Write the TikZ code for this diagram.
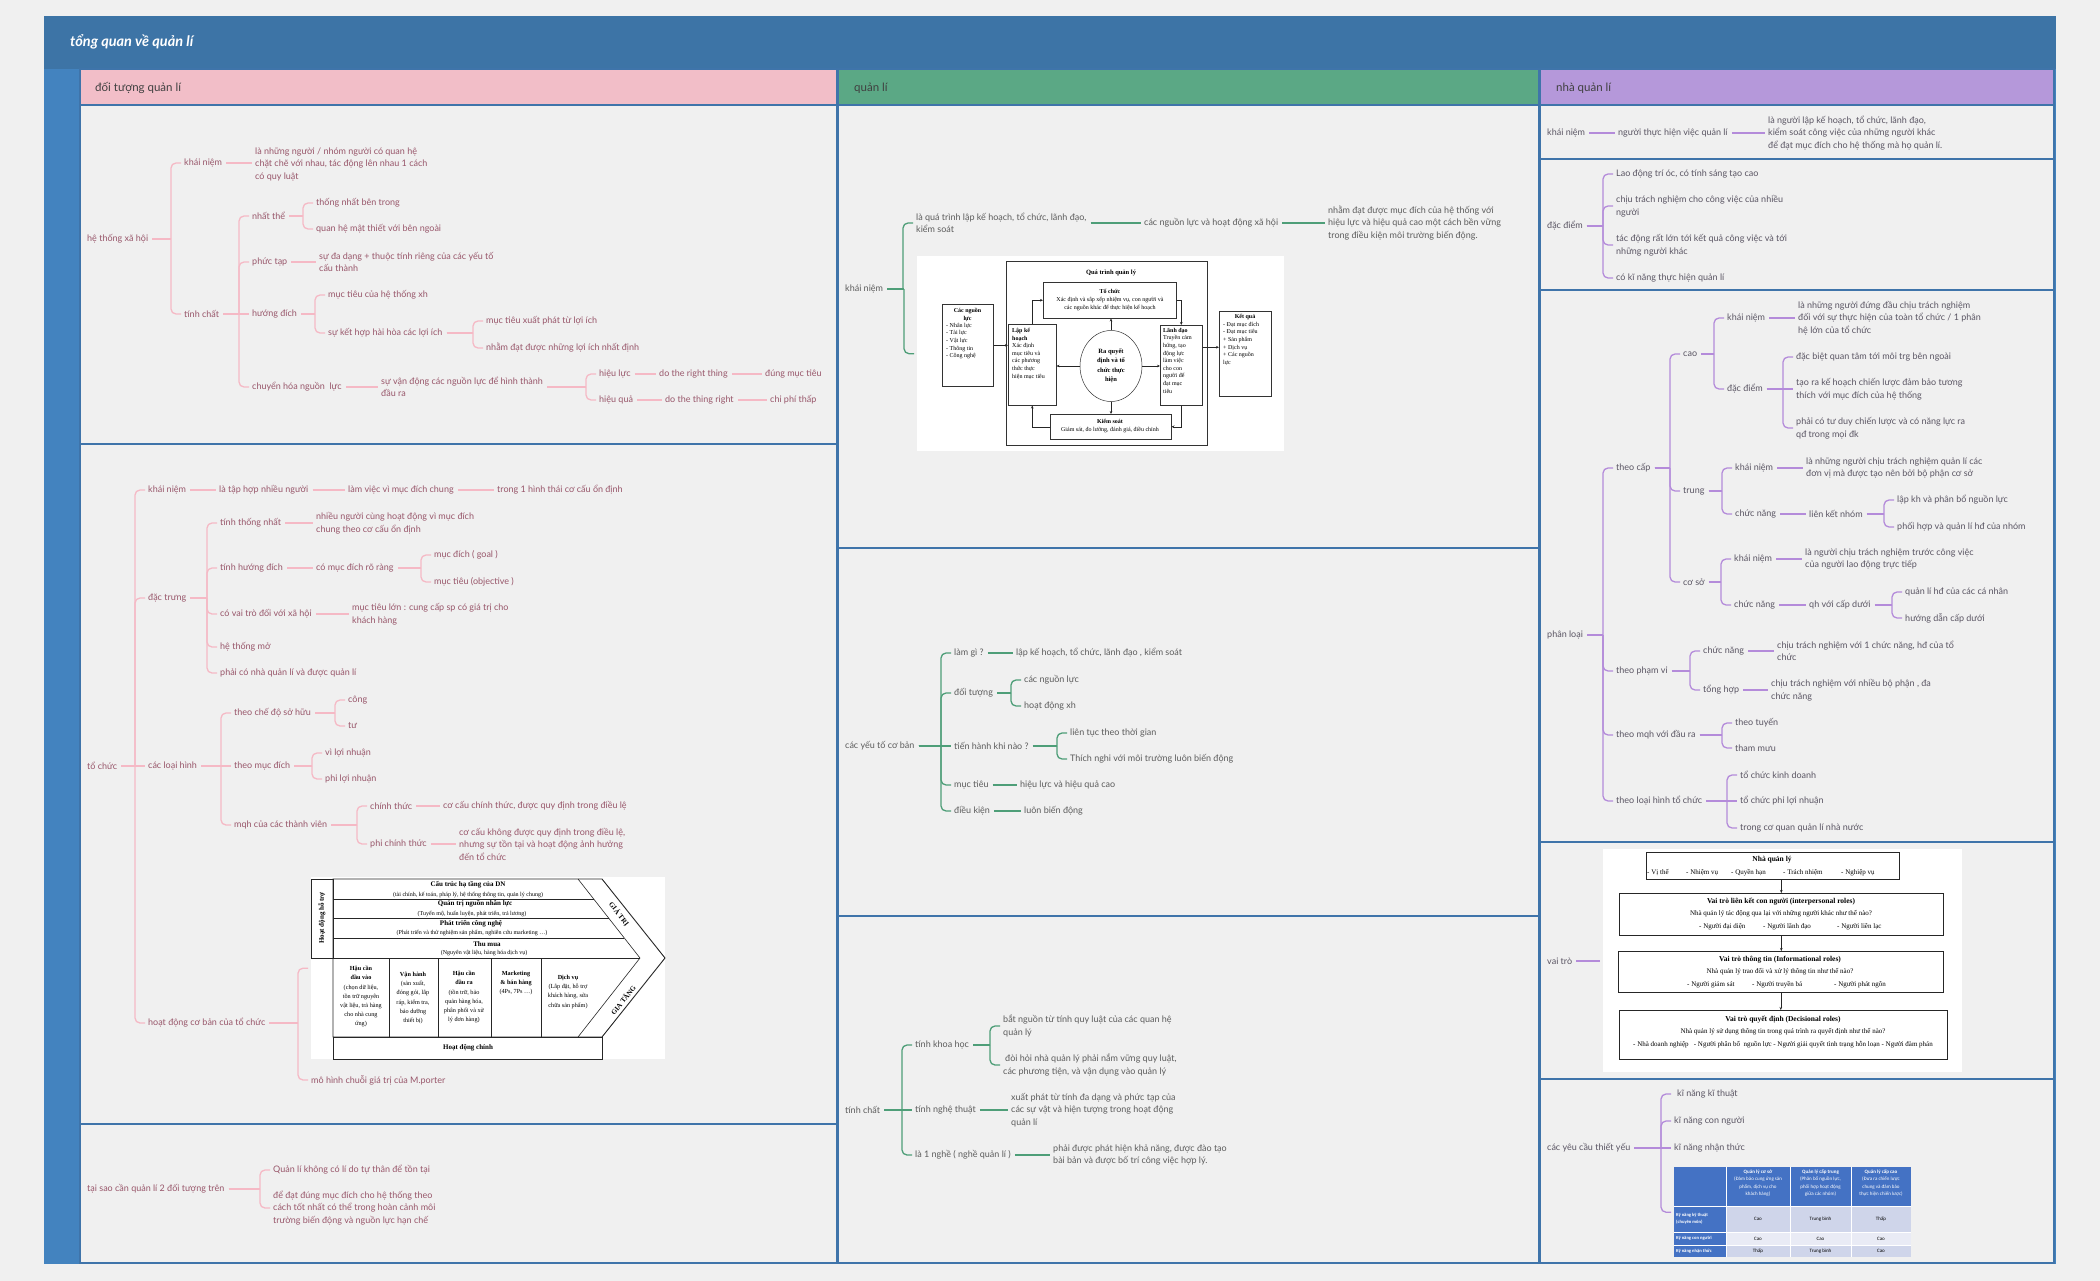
\documentclass[tikz,border=0pt]{standalone}
\usepackage{fontspec}
\setmainfont{Lato}
\newfontfamily\serf{Liberation Serif}
\newfontfamily\tabf{Carlito}
\usetikzlibrary{calc,arrows.meta,shapes.geometric}
\definecolor{bg}{HTML}{F0F0F0}
\definecolor{titleblue}{HTML}{3D74A6}
\definecolor{stripblue}{HTML}{4383BF}
\definecolor{frameblue}{HTML}{3F74AA}
\definecolor{hpink}{HTML}{F2BEC8}
\definecolor{hgreen}{HTML}{5BA885}
\definecolor{hpurple}{HTML}{B598DA}
\definecolor{lline}{HTML}{F5B9C5}
\definecolor{ltext}{HTML}{98566A}
\definecolor{mline}{HTML}{4E9E78}
\definecolor{mtext}{HTML}{5C5C5C}
\definecolor{rline}{HTML}{B48BDA}
\definecolor{rtext}{HTML}{5A5563}
\definecolor{tblue}{HTML}{4472C4}
\definecolor{tdark}{HTML}{CFD5EA}
\definecolor{tlight}{HTML}{E9EBF5}
\newcommand\mlk[2]{%
  \draw[cn] ($(#1.east)+(4,0)$) -- ($(#2.west |- #1.east)+(-13,0)$);%
  \draw[cn,rounded corners=5pt] ($(#2.west |- #1.east)+(-13,0)$) |- ($(#2.west)+(-3,0)$);}
\newcommand\mls[2]{\draw[cn] ($(#1.east)+(4,0)$) -- ($(#2.west |- #1.east)+(-3,0)$);}
\begin{document}
\begin{tikzpicture}[x=1pt,y=-1pt,
  nd/.style={anchor=west,inner sep=0pt,align=left,font=\fontsize{9}{12.5}\selectfont},
  panel/.style={draw=frameblue,line width=1.5pt,fill=bg},
  hdr/.style={draw=frameblue,line width=1.5pt},
  htext/.style={anchor=west,inner sep=0pt,font=\fontsize{11.5}{13}\selectfont,text=black!75},
  imgbox/.style={anchor=north west,fill=white,draw=none,inner sep=0pt},
  vl/.style={draw=black!85,line width=0.6pt},
  vt/.style={inner sep=0pt,font=\serf\bfseries\fontsize{7}{8}\selectfont},
  vs/.style={inner sep=0pt,font=\serf\fontsize{6}{7}\selectfont},
  vcol/.style={anchor=north,align=center,inner sep=0pt,font=\serf\fontsize{6.2}{9.2}\selectfont},
  pb/.style={draw=black!80,line width=0.5pt,anchor=north west,inner sep=0pt},
  ptx/.style={inner sep=0pt,align=left,font=\serf\fontsize{6}{7.6}\selectfont},
  pa/.style={draw=black!85,line width=0.5pt,-{Stealth[length=3pt,width=2.6pt]}},
  rbx/.style={draw=black!85,line width=0.6pt,anchor=north west,inner sep=0pt},
  rbt/.style={inner sep=0pt,font=\serf\bfseries\fontsize{7.5}{9}\selectfont},
  rbs/.style={inner sep=0pt,font=\serf\fontsize{7}{8}\selectfont},
  ttx/.style={inner sep=0pt,align=center,font=\tabf\fontsize{5}{7.4}\selectfont}
]
\useasboundingbox (0,0) rectangle (2100,1281);
\fill[bg] (0,0) rectangle (2100,1281);
\fill[stripblue] (44,16) rectangle (2056,1264);
\fill[titleblue] (44,16) rectangle (2056,69);
\node[anchor=west,inner sep=0pt,text=white,font=\bfseries\itshape\fontsize{14.5}{16}\selectfont] (title) at (70,42) {tổng quan về quản lí};

% headers
\draw[hdr,fill=hpink] (80,69) rectangle (837,105);
\draw[hdr,fill=hgreen] (838,69) rectangle (1539,105);
\draw[hdr,fill=hpurple] (1540,69) rectangle (2054,105);
\node[htext] (h1) at (95,88) {đối tượng quản lí};
\node[htext] (h2) at (854,88) {quản lí};
\node[htext] (h3) at (1556,88) {nhà quản lí};

% panels
\draw[panel] (80,105) rectangle (837,444);
\draw[panel] (80,444) rectangle (837,1124);
\draw[panel] (80,1124) rectangle (837,1263);
\draw[panel] (838,105) rectangle (1539,548);
\draw[panel] (838,548) rectangle (1539,916);
\draw[panel] (838,916) rectangle (1539,1263);
\draw[panel] (1540,105) rectangle (2054,159);
\draw[panel] (1540,159) rectangle (2054,290);
\draw[panel] (1540,290) rectangle (2054,842);
\draw[panel] (1540,842) rectangle (2054,1079);
\draw[panel] (1540,1079) rectangle (2054,1263);

%================ LEFT COLUMN =================
\begin{scope}[tx/.style={nd,text=ltext},cn/.style={draw=lline,line width=1.3pt}]
\node[tx] (a0) at (87,239) {hệ thống xã hội};
\node[tx] (a1) at (184,163) {khái niệm};
\node[tx] (a1a) at (255,164) {là những người / nhóm người có quan hệ\\chặt chẽ với nhau, tác động lên nhau 1 cách\\có quy luật};
\node[tx] (a2) at (184,314) {tính chất};
\node[tx] (a21) at (252,216) {nhất thể};
\node[tx] (a211) at (316,203) {thống nhất bên trong};
\node[tx] (a212) at (316,229) {quan hệ mật thiết với bên ngoài};
\node[tx] (a22) at (252,262) {phức tạp};
\node[tx] (a221) at (319,262) {sự đa dạng + thuộc tính riêng của các yếu tố\\cấu thành};
\node[tx] (a23) at (252,314) {hướng đích};
\node[tx] (a231) at (328,295) {mục tiêu của hệ thống xh};
\node[tx] (a232) at (328,333) {sự kết hợp hài hòa các lợi ích};
\node[tx] (a2321) at (486,321) {mục tiêu xuất phát từ lợi ích};
\node[tx] (a2322) at (486,348) {nhằm đạt được những lợi ích nhất định};
\node[tx] (a24) at (252,387) {chuyển hóa nguồn\ \ lực};
\node[tx] (a241) at (381,387) {sự vận động các nguồn lực để hình thành\\đầu ra};
\node[tx] (a2411) at (599,374) {hiệu lực};
\node[tx] (a2412) at (659,374) {do the right thing};
\node[tx] (a2413) at (765,374) {đúng mục tiêu};
\node[tx] (a2421) at (599,400) {hiệu quả};
\node[tx] (a2422) at (665,400) {do the thing right};
\node[tx] (a2423) at (770,400) {chi phí thấp};
\mlk{a0}{a1} \mlk{a0}{a2}
\mls{a1}{a1a}
\mlk{a2}{a21} \mlk{a2}{a22} \mls{a2}{a23} \mlk{a2}{a24}
\mlk{a21}{a211} \mlk{a21}{a212}
\mls{a22}{a221}
\mlk{a23}{a231} \mlk{a23}{a232}
\mlk{a232}{a2321} \mlk{a232}{a2322}
\mls{a24}{a241}
\mlk{a241}{a2411} \mlk{a241}{a2421}
\mls{a2411}{a2412} \mls{a2412}{a2413}
\mls{a2421}{a2422} \mls{a2422}{a2423}

\node[tx] (b0) at (87,766) {tổ chức};
\node[tx] (b1) at (148,490) {khái niệm};
\node[tx] (b11) at (219,490) {là tập hợp nhiều người};
\node[tx] (b12) at (348,490) {làm việc vì mục đích chung};
\node[tx] (b13) at (497,490) {trong 1 hình thái cơ cấu ổn định};
\node[tx] (b2) at (148,598) {đặc trưng};
\node[tx] (b21) at (220,523) {tính thống nhất};
\node[tx] (b211) at (316,523) {nhiều người cùng hoạt động vì mục đích\\chung theo cơ cấu ổn định};
\node[tx] (b22) at (220,568) {tính hướng đích};
\node[tx] (b221) at (316,568) {có mục đích rõ ràng};
\node[tx] (b2211) at (434,555) {mục đích ( goal )};
\node[tx] (b2212) at (434,582) {mục tiêu (objective )};
\node[tx] (b23) at (220,614) {có vai trò đối với xã hội};
\node[tx] (b231) at (352,614) {mục tiêu lớn : cung cấp sp có giá trị cho\\khách hàng};
\node[tx] (b24) at (220,647) {hệ thống mở};
\node[tx] (b25) at (220,673) {phải có nhà quản lí và được quản lí};
\node[tx] (b3) at (148,766) {các loại hình};
\node[tx] (b31) at (234,713) {theo chế độ sở hữu};
\node[tx] (b311) at (348,700) {công};
\node[tx] (b312) at (348,726) {tư};
\node[tx] (b32) at (234,766) {theo mục đích};
\node[tx] (b321) at (325,753) {vì lợi nhuận};
\node[tx] (b322) at (325,779) {phi lợi nhuận};
\node[tx] (b33) at (234,825) {mqh của các thành viên};
\node[tx] (b331) at (370,806) {chính thức};
\node[tx] (b3311) at (443,806) {cơ cấu chính thức, được quy định trong điều lệ};
\node[tx] (b332) at (370,844) {phi chính thức};
\node[tx] (b3321) at (459,844) {cơ cấu không được quy định trong điều lệ,\\nhưng sự tồn tại và hoạt động ảnh hưởng\\đến tổ chức};
\node[tx] (b4) at (148,1023) {hoạt động cơ bản của tổ chức};
\node[tx] (b42) at (311,1080) {mô hình chuỗi giá trị của M.porter};

% value chain picture
\node[imgbox,minimum width=354,minimum height=182] (vc) at (311,877) {};
\draw[vl] (311,879) rectangle (333,958);
\draw[vl,line width=0.9pt] (333,879) -- (602,879) -- (665,958) -- (602,1037) -- (333,1037) -- cycle;
\draw[vl] (578,879) -- (640,958) -- (578,1037);
\draw[vl] (333,899) -- (594,899) (333,918) -- (609,918) (333,938) -- (624,938) (311,958) -- (640,958);
\draw[vl] (389,958) -- (389,1037) (438,958) -- (438,1037) (491,958) -- (491,1037) (541,958) -- (541,1037);
\draw[vl] (333,1037) rectangle (602,1059);
\node[vt] at (468,885) {Cấu trúc hạ tầng của DN};
\node[vs] at (468,894.5) {(tài chính, kế toán, pháp lý, hệ thống thông tin, quản lý chung)};
\node[vt] at (475,904) {Quản trị nguồn nhân lực};
\node[vs] at (472,913.5) {(Tuyển mộ, huấn luyện, phát triển, trả lương)};
\node[vt] at (471,923.5) {Phát triển công nghệ};
\node[vs] at (472,933) {(Phát triển và thử nghiệm sản phẩm, nghiên cứu marketing …)};
\node[vt] at (487,944) {Thu mua};
\node[vs] at (484,953) {(Nguyên vật liệu, hàng hóa dịch vụ)};
\node[vcol] at (361,966) {\textbf{Hậu cần}\\\textbf{đầu vào}\\(chọn dữ liệu,\\tồn trữ nguyên\\vật liệu, trả hàng\\cho nhà cung\\ứng)};
\node[vcol] at (413,972) {\textbf{Vận hành}\\(sản xuất,\\đóng gói, lắp\\ráp, kiểm tra,\\bảo dưỡng\\thiết bị)};
\node[vcol] at (464,971) {\textbf{Hậu cần}\\\textbf{đầu ra}\\(tồn trữ, bảo\\quản hàng hóa,\\phân phối và xử\\lý đơn hàng)};
\node[vcol] at (516,971) {\textbf{Marketing}\\\textbf{\& bán hàng}\\(4Ps, 7Ps …)};
\node[vcol] at (568,975) {\textbf{Dịch vụ}\\(Lắp đặt, hỗ trợ\\khách hàng, sửa\\chữa sản phẩm)};
\node[vt] at (468,1048) {Hoạt động chính};
\node[vt,rotate=90] at (322,918) {Hoạt động hỗ trợ};
\node[vt,rotate=-51.5] at (619,914) {GIÁ TRỊ};
\node[vt,rotate=51.5] at (623,1000) {GIA TĂNG};

\mlk{b0}{b1} \mlk{b0}{b2} \mls{b0}{b3} \mlk{b0}{b4}
\mls{b1}{b11} \mls{b11}{b12} \mls{b12}{b13}
\mlk{b2}{b21} \mlk{b2}{b22} \mlk{b2}{b23} \mlk{b2}{b24} \mlk{b2}{b25}
\mls{b21}{b211}
\mls{b22}{b221}
\mlk{b221}{b2211} \mlk{b221}{b2212}
\mls{b23}{b231}
\mlk{b3}{b31} \mls{b3}{b32} \mlk{b3}{b33}
\mlk{b31}{b311} \mlk{b31}{b312}
\mlk{b32}{b321} \mlk{b32}{b322}
\mlk{b33}{b331} \mlk{b33}{b332}
\mls{b331}{b3311} \mls{b332}{b3321}
\mlk{b4}{vc} \mlk{b4}{b42}

\node[tx] (c0) at (87,1189) {tại sao cần quản lí 2 đối tượng trên};
\node[tx] (c1) at (273,1170) {Quản lí không có lí do tự thân để tồn tại};
\node[tx] (c2) at (273,1208) {để đạt đúng mục đích cho hệ thống theo\\cách tốt nhất có thể trong hoàn cảnh môi\\trường biến động và nguồn lực hạn chế};
\mlk{c0}{c1} \mlk{c0}{c2}
\end{scope}

%================ MIDDLE COLUMN =================
\begin{scope}[tx/.style={nd,text=mtext},cn/.style={draw=mline,line width=1.3pt}]
\node[tx] (m0) at (845,289) {khái niệm};
\node[tx] (m1) at (916,223) {là quá trình lập kế hoạch, tổ chức, lãnh đạo,\\kiểm soát};
\node[tx] (m2) at (1144,223) {các nguồn lực và hoạt động xã hội};
\node[tx] (m3) at (1328,223) {nhằm đạt được mục đích của hệ thống với\\hiệu lực và hiệu quả cao một cách bền vững\\trong điều kiện môi trường biến động.};

% management process picture
\node[imgbox,minimum width=367,minimum height=195] (mp) at (917,256) {};
\node[pb,minimum width=201,minimum height=184] (qt) at (1006,261) {};
\node[ptx,font=\serf\bfseries\fontsize{6.5}{8}\selectfont] at (1111,273) {Quá trình quản lý};
\node[pb,minimum width=133,minimum height=36] (tc) at (1043,282) {};
\node[ptx,align=center] at (1110,300) {\textbf{Tổ chức}\\Xác định và sắp xếp nhiệm vụ, con người và\\các nguồn khác để thực hiện kế hoạch};
\node[pb,minimum width=51,minimum height=82] (cnl) at (942,304) {};
\node[ptx,align=center,anchor=north] at (967.5,308) {\textbf{Các nguồn}\\\textbf{lực}};
\node[ptx,anchor=north west] at (946,323) {- Nhân lực\\- Tài lực\\- Vật lực\\- Thông tin\\- Công nghệ};
\node[pb,minimum width=48,minimum height=81] (lkh) at (1008,324) {};
\node[ptx,anchor=north west] at (1012,328) {\textbf{Lập kế}\\\textbf{hoạch}\\Xác định\\mục tiêu và\\các phương\\thức thực\\hiện mục tiêu};
\node[draw=black!80,line width=0.5pt,ellipse,minimum width=62,minimum height=71,inner sep=0pt,align=center,font=\serf\bfseries\fontsize{6.5}{9.5}\selectfont] (rqd) at (1111,366) {Ra quyết\\định và tổ\\chức thực\\hiện};
\node[pb,minimum width=42,minimum height=80] (ld) at (1160,325) {};
\node[ptx,anchor=north west] at (1163,328) {\textbf{Lãnh đạo}\\Truyền cảm\\hứng, tạo\\động lực\\làm việc\\cho con\\người để\\đạt mục\\tiêu};
\node[pb,minimum width=52,minimum height=85] (kq) at (1219,311) {};
\node[ptx,anchor=north] at (1245,314) {\textbf{Kết quả}};
\node[ptx,anchor=north west] at (1223,322) {- Đạt mục đích\\- Đạt mục tiêu\\+ Sản phẩm\\+ Dịch vụ\\+ Các nguồn\\lực};
\node[pb,minimum width=121,minimum height=25] (ks) at (1050,414) {};
\node[ptx,align=center] at (1110,426) {\textbf{Kiểm soát}\\Giám sát, đo lường, đánh giá, điều chỉnh};
\draw[pa] (cnl.east) -- (cnl.east -| lkh.west);
\draw[pa] (lkh.north) |- (tc.west);
\draw[pa] (tc.east) -| (ld.north);
\draw[pa] (ld.south) |- (ks.east);
\draw[pa] (ks.west) -| (lkh.south);
\draw[pa] (rqd.north) -- (rqd.north |- tc.south);
\draw[pa] (rqd.south) -- (rqd.south |- ks.north);
\draw[pa] (rqd.west) -- (rqd.west -| lkh.east);
\draw[pa] (rqd.east) -- (rqd.east -| ld.west);
\draw[pa] ([yshift=18pt]ld.east) -- ([yshift=18pt]ld.east -| kq.west);

\mlk{m0}{m1} \mlk{m0}{mp}
\mls{m1}{m2} \mls{m2}{m3}

\node[tx] (n0) at (845,746) {các yếu tố cơ bản};
\node[tx] (n1) at (954,653) {làm gì ?};
\node[tx] (n11) at (1016,653) {lập kế hoạch, tổ chức, lãnh đạo , kiểm soát};
\node[tx] (n2) at (954,693) {đối tượng};
\node[tx] (n21) at (1024,680) {các nguồn lực};
\node[tx] (n22) at (1024,706) {hoạt động xh};
\node[tx] (n3) at (954,746) {tiến hành khi nào ?};
\node[tx] (n31) at (1070,733) {liên tục theo thời gian};
\node[tx] (n32) at (1070,759) {Thích nghi với môi trường luôn biến động};
\node[tx] (n4) at (954,785) {mục tiêu};
\node[tx] (n41) at (1020,785) {hiệu lực và hiệu quả cao};
\node[tx] (n5) at (954,811) {điều kiện};
\node[tx] (n51) at (1024,811) {luôn biến động};
\mlk{n0}{n1} \mlk{n0}{n2} \mls{n0}{n3} \mlk{n0}{n4} \mlk{n0}{n5}
\mls{n1}{n11}
\mlk{n2}{n21} \mlk{n2}{n22}
\mlk{n3}{n31} \mlk{n3}{n32}
\mls{n4}{n41} \mls{n5}{n51}

\node[tx] (p0) at (845,1110) {tính chất};
\node[tx] (p1) at (915,1045) {tính khoa học};
\node[tx] (p11) at (1003,1026) {bắt nguồn từ tính quy luật của các quan hệ\\quản lý};
\node[tx] (p12) at (1003,1065) {\hspace{2pt}đòi hỏi nhà quản lý phải nắm vững quy luật,\\các phương tiện, và vận dụng vào quản lý};
\node[tx] (p2) at (915,1110) {tính nghệ thuật};
\node[tx] (p21) at (1011,1110) {xuất phát từ tính đa dạng và phức tạp của\\các sự vật và hiện tượng trong hoạt động\\quản lí};
\node[tx] (p3) at (915,1155) {là 1 nghề ( nghề quản lí )};
\node[tx] (p31) at (1053,1155) {phải được phát hiện khả năng, được đào tạo\\bài bản và được bố trí công việc hợp lý.};
\mlk{p0}{p1} \mls{p0}{p2} \mlk{p0}{p3}
\mlk{p1}{p11} \mlk{p1}{p12}
\mls{p2}{p21} \mls{p3}{p31}
\end{scope}

%================ RIGHT COLUMN =================
\begin{scope}[tx/.style={nd,text=rtext},cn/.style={draw=rline,line width=1.3pt}]
\node[tx] (r0) at (1547,133) {khái niệm};
\node[tx] (r1) at (1618,133) {người thực hiện việc quản lí};
\node[tx] (r2) at (1768,133) {là người lập kế hoạch, tổ chức, lãnh đạo,\\kiểm soát công việc của những người khác\\để đạt mục đích cho hệ thống mà họ quản lí.};
\mls{r0}{r1} \mls{r1}{r2}

\node[tx] (s0) at (1547,226) {đặc điểm};
\node[tx] (s1) at (1616,174) {Lao động trí óc, có tính sáng tạo cao};
\node[tx] (s2) at (1616,206) {chịu trách nghiệm cho công việc của nhiều\\người};
\node[tx] (s3) at (1616,245) {tác động rất lớn tới kết quả công việc và tới\\những người khác};
\node[tx] (s4) at (1616,278) {có kĩ năng thực hiện quản lí};
\mlk{s0}{s1} \mlk{s0}{s2} \mlk{s0}{s3} \mlk{s0}{s4}

\node[tx] (t0) at (1547,635) {phân loại};
\node[tx] (t1) at (1616,468) {theo cấp};
\node[tx] (t11) at (1683,354) {cao};
\node[tx] (t111) at (1727,318) {khái niệm};
\node[tx] (t1111) at (1798,318) {là những người đứng đầu chịu trách nghiệm\\đối với sự thực hiện của toàn tổ chức / 1 phân\\hệ lớn của tổ chức};
\node[tx] (t112) at (1727,389) {đặc điểm};
\node[tx] (t1121) at (1796,357) {đặc biệt quan tâm tới môi trg bên ngoài};
\node[tx] (t1122) at (1796,389) {tạo ra kế hoạch chiến lược đảm bảo tương\\thích với mục đích của hệ thống};
\node[tx] (t1123) at (1796,428) {phải có tư duy chiến lược và có năng lực ra\\qđ trong mọi đk};
\node[tx] (t12) at (1683,491) {trung};
\node[tx] (t121) at (1735,468) {khái niệm};
\node[tx] (t1211) at (1806,468) {là những người chịu trách nghiệm quản lí các\\đơn vị mà được tạo nên bởi bộ phận cơ sở};
\node[tx] (t122) at (1735,514) {chức năng};
\node[tx] (t1221) at (1809,514) {liên kết nhóm};
\node[tx] (t12211) at (1897,500) {lập kh và phân bổ nguồn lực};
\node[tx] (t12212) at (1897,527) {phối hợp và quản lí hđ của nhóm};
\node[tx] (t13) at (1683,582) {cơ sở};
\node[tx] (t131) at (1734,559) {khái niệm};
\node[tx] (t1311) at (1805,559) {là người chịu trách nghiệm trước công việc\\của người lao động trực tiếp};
\node[tx] (t132) at (1734,605) {chức năng};
\node[tx] (t1321) at (1809,605) {qh với cấp dưới};
\node[tx] (t13211) at (1905,592) {quản lí hđ của các cá nhân};
\node[tx] (t13212) at (1905,618) {hướng dẫn cấp dưới};
\node[tx] (t2) at (1616,671) {theo phạm vi};
\node[tx] (t21) at (1703,651) {chức năng};
\node[tx] (t211) at (1777,651) {chịu trách nghiệm với 1 chức năng, hđ của tổ\\chức};
\node[tx] (t22) at (1703,690) {tổng hợp};
\node[tx] (t221) at (1771,690) {chịu trách nghiệm với nhiều bộ phận , đa\\chức năng};
\node[tx] (t3) at (1616,735) {theo mqh với đầu ra};
\node[tx] (t31) at (1735,723) {theo tuyến};
\node[tx] (t32) at (1735,748) {tham mưu};
\node[tx] (t4) at (1616,801) {theo loại hình tổ chức};
\node[tx] (t41) at (1740,775) {tổ chức kinh doanh};
\node[tx] (t42) at (1740,801) {tổ chức phi lợi nhuận};
\node[tx] (t43) at (1740,828) {trong cơ quan quản lí nhà nước};
\mlk{t0}{t1} \mlk{t0}{t2} \mlk{t0}{t3} \mlk{t0}{t4}
\mlk{t1}{t11} \mlk{t1}{t12} \mlk{t1}{t13}
\mlk{t11}{t111} \mlk{t11}{t112}
\mls{t111}{t1111}
\mlk{t112}{t1121} \mls{t112}{t1122} \mlk{t112}{t1123}
\mlk{t12}{t121} \mlk{t12}{t122}
\mls{t121}{t1211} \mls{t122}{t1221}
\mlk{t1221}{t12211} \mlk{t1221}{t12212}
\mlk{t13}{t131} \mlk{t13}{t132}
\mls{t131}{t1311} \mls{t132}{t1321}
\mlk{t1321}{t13211} \mlk{t1321}{t13212}
\mlk{t2}{t21} \mlk{t2}{t22}
\mls{t21}{t211} \mls{t22}{t221}
\mlk{t3}{t31} \mlk{t3}{t32}
\mlk{t4}{t41} \mls{t4}{t42} \mlk{t4}{t43}

% roles picture
\node[tx] (v0) at (1547,961) {vai trò};
\node[imgbox,minimum width=359,minimum height=223] (roles) at (1603,849) {};
\node[rbx,minimum width=253,minimum height=27] (rb1) at (1646,852) {};
\node[rbt] at (1772,860) {Nhà quản lý};
\node[rbs,anchor=west] at (1647,873) {- Vị thế};
\node[rbs,anchor=west] at (1686,873) {- Nhiệm vụ};
\node[rbs,anchor=west] at (1731,873) {- Quyền hạn};
\node[rbs,anchor=west] at (1783,873) {- Trách nhiệm};
\node[rbs,anchor=west] at (1841,873) {- Nghiệp vụ};
\node[rbx,minimum width=324,minimum height=42] (rb2) at (1619,893) {};
\node[rbt] at (1781,902) {Vai trò liên kết con người (interpersonal roles)};
\node[rbs] at (1781,914) {Nhà quản lý tác động qua lại với những người khác như thế nào?};
\node[rbs,anchor=west] at (1699,927) {- Người đại diện};
\node[rbs,anchor=west] at (1763,927) {- Người lãnh đạo};
\node[rbs,anchor=west] at (1837,927) {- Người liên lạc};
\node[rbx,minimum width=325,minimum height=41] (rb3) at (1618,951) {};
\node[rbt] at (1780,960) {Vai trò thông tin (Informational roles)};
\node[rbs] at (1780,972) {Nhà quản lý trao đổi và xử lý thông tin như thế nào?};
\node[rbs,anchor=west] at (1687,985) {- Người giám sát};
\node[rbs,anchor=west] at (1752,985) {- Người truyền bá};
\node[rbs,anchor=west] at (1834,985) {- Người phát ngôn};
\node[rbx,minimum width=328,minimum height=49] (rb4) at (1619,1010) {};
\node[rbt] at (1783,1020) {Vai trò quyết định (Decisional roles)};
\node[rbs] at (1783,1032) {Nhà quản lý sử dụng thông tin trong quá trình ra quyết định như thế nào?};
\node[rbs] at (1783,1045) {- Nhà doanh nghiệp\ \ \ - Người phân bổ\ \ nguồn lực - Người giải quyết tình trạng hỗn loạn - Người đàm phán};
\draw[pa] (rb1.south -| rb2.north) -- (rb2.north);
\draw[pa] (rb2.south) -- (rb2.south |- rb3.north);
\draw[pa] (rb3.south) -- (rb3.south |- rb4.north);
\mls{v0}{roles}

% essential skills
\node[tx] (u0) at (1547,1148) {các yêu cầu thiết yếu};
\node[tx] (u1) at (1674,1094) {\hspace{3pt}kĩ năng kĩ thuật};
\node[tx] (u2) at (1674,1121) {kĩ năng con người};
\node[tx] (u3) at (1674,1148) {kĩ năng nhận thức};
\node[anchor=north west,inner sep=0pt,minimum width=237,minimum height=90,fill=white] (tbl) at (1674,1167) {};
\fill[tblue] (1674,1167) rectangle (1911,1206);
\fill[tblue] (1674,1206) rectangle (1726,1257);
\fill[tdark] (1726,1206) rectangle (1911,1232);
\fill[tlight] (1726,1232) rectangle (1911,1245);
\fill[tdark] (1726,1245) rectangle (1911,1257);
\draw[white,line width=0.7pt] (1726,1167) -- (1726,1257) (1790,1167) -- (1790,1257) (1851,1167) -- (1851,1257)
  (1674,1206) -- (1911,1206) (1674,1232) -- (1911,1232) (1674,1245) -- (1911,1245);
\node[ttx,text=white] at (1758,1183) {\textbf{Quản lý cơ sở}\\(Đảm bảo cung ứng sản\\phẩm, dịch vụ cho\\khách hàng)};
\node[ttx,text=white] at (1820.5,1183) {\textbf{Quản lý cấp trung}\\(Phân bổ nguồn lực,\\phối hợp hoạt động\\giữa các nhóm)};
\node[ttx,text=white] at (1881,1183) {\textbf{Quản lý cấp cao}\\(Đưa ra chiến lược\\chung và đảm bảo\\thực hiện chiến lược)};
\node[ttx,text=white,anchor=west,align=left,font=\tabf\bfseries\fontsize{4.6}{7}\selectfont] at (1676,1219) {Kỹ năng kỹ thuật\\(chuyên môn)};
\node[ttx,text=white,anchor=west,align=left,font=\tabf\bfseries\fontsize{4.6}{7}\selectfont] at (1676,1238.5) {Kỹ năng con người};
\node[ttx,text=white,anchor=west,align=left,font=\tabf\bfseries\fontsize{4.6}{7}\selectfont] at (1676,1251) {Kỹ năng nhận thức};
\node[ttx] at (1758,1219) {Cao};
\node[ttx] at (1820.5,1219) {Trung bình};
\node[ttx] at (1881,1219) {Thấp};
\node[ttx] at (1758,1238.5) {Cao};
\node[ttx] at (1820.5,1238.5) {Cao};
\node[ttx] at (1881,1238.5) {Cao};
\node[ttx] at (1758,1251) {Thấp};
\node[ttx] at (1820.5,1251) {Trung bình};
\node[ttx] at (1881,1251) {Cao};
\mlk{u0}{u1} \mlk{u0}{u2} \mls{u0}{u3} \mlk{u0}{tbl}
\end{scope}
\end{tikzpicture}
\end{document}
